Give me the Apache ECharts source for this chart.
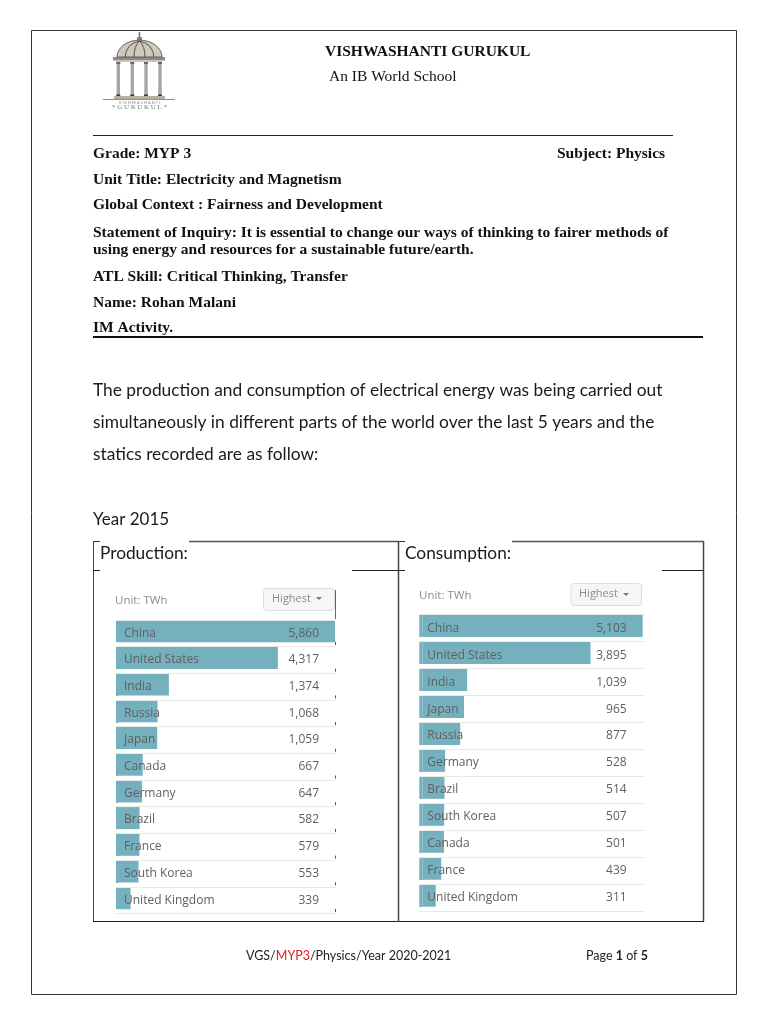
<!DOCTYPE html>
<html><head><meta charset="utf-8">
<style>html,body{margin:0;padding:0;background:#fff}#c{width:768px;height:1024px}</style>
<script src="https://cdn.jsdelivr.net/npm/echarts@6/dist/echarts.min.js"></script></head>
<body><div id="c"></div>
<script>
const prodCategories=["China","United States","India","Russia","Japan","Canada","Germany","Brazil","France","South Korea","United Kingdom"];
const prodValues=[5860,4317,1374,1068,1059,667,647,582,579,553,339];
const consCategories=["China","United States","India","Japan","Russia","Germany","Brazil","South Korea","Canada","France","United Kingdom"];
const consValues=[5103,3895,1039,965,877,528,514,507,501,439,311];

const chart=echarts.init(document.getElementById('c'),null,{renderer:'canvas'});
const SERIF='"Liberation Serif",serif', SANS='Lato,sans-serif', UI='"Open Sans",sans-serif';
const BAR='#74b0be', TXT='#5f5f5f';
const fmt=v=>v.toLocaleString('en-US');

function txt(x,y,text,size,font,weight,color,extra){
  return {type:'text',x,y,silent:true,z:10,style:Object.assign({text,fontSize:size,fontFamily:font,fontWeight:weight||'normal',fill:color||'#111',verticalAlign:'middle',align:'left'},extra||{})};
}
function ln(x1,y1,x2,y2,color,w,dash){
  return {type:'line',silent:true,z:1,shape:{x1,y1,x2,y2},style:{stroke:color||'#222',lineWidth:w||1,lineDash:dash||null}};
}
function rect(x,y,w,h,fill,stroke,r){
  return {type:'rect',silent:true,z:2,shape:{x,y,width:w,height:h,r:r||0},style:{fill:fill,stroke:stroke||null,lineWidth:1}};
}
function rib(x1,cx,cy){
  return {type:'bezierCurve',silent:true,z:3,shape:{x1,y1:57,x2:139.5,y2:41,cpx1:cx,cpy1:cy},style:{fill:'none',stroke:'#55504a',lineWidth:1}};
}
const g=[];
// page frame
g.push({type:'rect',silent:true,shape:{x:31.5,y:30.5,width:705,height:964},style:{fill:'none',stroke:'#333',lineWidth:1}});
// logo
g.push({type:'sector',silent:true,z:3,originX:139.5,originY:57,scaleY:0.75,shape:{cx:139.5,cy:57,r:22.5,r0:0,startAngle:Math.PI,endAngle:2*Math.PI,clockwise:true},style:{fill:'#cfc8bd',stroke:'#5a544c',lineWidth:1}});
g.push(rib(125,126,44),rib(154,153,44),rib(134,134,46),rib(145,145,46));
g.push(rect(137,37,5,4,'#8a847c'));
g.push(ln(139.5,32,139.5,37,'#77716a',1.5));
g.push(rect(113,57,52,3.5,'#8f8a84'));
g.push(rect(116,60.5,46,1.5,'#c9c5bf'));
[118.3,132.3,146,160].forEach(x=>{
  g.push(rect(x-1.7,62,3.4,34,'#aaa59e'));
  g.push(rect(x-2,62,4,2,'#6d6862'));
  g.push(rect(x-2,94.5,4,1.5,'#3a3632'));
});
g.push(rect(114,96,51,3,'#b8afa3'));
g.push(ln(103,99.5,175,99.5,'#b08474',1));
g.push(txt(139.5,102.5,'V I S H W A S H A N T I',4,SANS,'normal','#888',{align:'center'}));
g.push(txt(139.5,107.5,'* G U R U K U L *',7,SERIF,'normal','#777',{align:'center'}));
// header text
g.push(txt(325,52,'VISHWASHANTI GURUKUL',15.5,SERIF,'bold'));
g.push(txt(329,77,'An IB World School',15.5,SERIF));
g.push(ln(93,135.5,673,135.5,'#222',1));
g.push(txt(93,154,'Grade: MYP 3',15.5,SERIF,'bold'));
g.push(txt(557,154,'Subject: Physics',15.5,SERIF,'bold'));
g.push(txt(93,180,'Unit Title: Electricity and Magnetism',15.5,SERIF,'bold'));
g.push(txt(93,205,'Global Context : Fairness and Development',15.5,SERIF,'bold'));
g.push(txt(93,232.5,'Statement of Inquiry: It is essential to change our ways of thinking to fairer methods of',15.5,SERIF,'bold'));
g.push(txt(93,250,'using energy and resources for a sustainable future/earth.',15.5,SERIF,'bold'));
g.push(txt(93,277,'ATL Skill: Critical Thinking, Transfer',15.5,SERIF,'bold'));
g.push(txt(93,302.5,'Name: Rohan Malani',15.5,SERIF,'bold'));
g.push(txt(93,328,'IM Activity.',15.5,SERIF,'bold'));
g.push(ln(93,337,703,337,'#111',2));
// body text
g.push(txt(93,390,'The production and consumption of electrical energy was being carried out',17.35,SANS,'normal','#1a1a1a'));
g.push(txt(93,422,'simultaneously in different parts of the world over the last 5 years and the',17.35,SANS,'normal','#1a1a1a'));
g.push(txt(93,454,'statics recorded are as follow:',17.35,SANS,'normal','#1a1a1a'));
g.push(txt(93,519.5,'Year 2015',17,SANS,'normal','#1a1a1a'));
// table rules
g.push(ln(93.5,541,93.5,921,'#444',1));
g.push(ln(398.5,541,398.5,921,'#444',1.5));
g.push(ln(703.5,541,703.5,921,'#444',1.5));
g.push(ln(93,921.5,704,921.5,'#222',1));
g.push(ln(93,541.5,100,541.5,'#333',1));
g.push(ln(189,541.5,398,541.5,'#555',1.5));
g.push(ln(398,541.5,405,541.5,'#333',1));
g.push(ln(512,541.5,704,541.5,'#555',1.5));
g.push(ln(93,570.5,100,570.5,'#222',1));
g.push(ln(352,570.5,405,570.5,'#222',1));
g.push(ln(662,570.5,704,570.5,'#222',1));
g.push(txt(100,553,'Production:',17.3,SANS,'normal','#1a1a1a'));
g.push(txt(405,553,'Consumption:',17.3,SANS,'normal','#1a1a1a'));
// widget chrome
g.push(txt(115,600.5,'Unit: TWh',11.5,UI,'normal','#8c8c8c'));
g.push(rect(263.5,588.5,71,22,'#f6f6f6','#dddddd',3));
g.push(txt(272,599,'Highest',11,UI,'normal','#8c8c8c'));
g.push({type:'polygon',silent:true,z:3,shape:{points:[[316,597],[322,597],[319,600]]},style:{fill:'#777'}});
g.push(ln(335.5,590,335.5,619,'#666',1));
g.push(ln(335.5,642,335.5,915,'#555',1,[3,23.7]));
g.push(txt(419,595.5,'Unit: TWh',11.5,UI,'normal','#8c8c8c'));
g.push(rect(571,583.5,70.5,22,'#f6f6f6','#dddddd',3));
g.push(txt(579,594,'Highest',11,UI,'normal','#8c8c8c'));
g.push({type:'polygon',silent:true,z:3,shape:{points:[[623,593],[629,593],[626,596]]},style:{fill:'#777'}});
// footer
g.push({type:'text',silent:true,z:10,x:246,y:955.5,style:{
  text:'{a|VGS/}{r|MYP3}{a|/Physics/Year 2020-2021}',verticalAlign:'middle',
  rich:{a:{fontSize:12.5,fontFamily:SANS,fill:'#222'},r:{fontSize:12.5,fontFamily:SANS,fill:'#e01b1b'}}}});
g.push({type:'text',silent:true,z:10,x:586,y:955.5,style:{
  text:'{a|Page }{b|1}{a| of }{b|5}',verticalAlign:'middle',
  rich:{a:{fontSize:12.5,fontFamily:SANS,fill:'#222'},b:{fontSize:12.5,fontFamily:SANS,fontWeight:'bold',fill:'#222'}}}});

// chart panels: bars grid (with a short same-colour tick forming each bar's root),
// and a slightly lower row grid carrying the row rules and both text columns
const panels=[
 {cats:prodCategories,vals:prodValues,left:116,width:219,top:617.85,height:293.7,root:2,rowShift:1.9},
 {cats:consCategories,vals:consValues,left:419.3,width:223.4,top:612.5,height:296.7,root:3,rowShift:2.2}
];
const grid=[],xAxis=[],yAxis=[],series=[];
const hiddenAxis={axisLine:{show:false},axisTick:{show:false},splitLine:{show:false}};
panels.forEach((p)=>{
  const gi=grid.length;
  grid.push({left:p.left+p.root,top:p.top,width:p.width-p.root,height:p.height,containLabel:false});
  xAxis.push({gridIndex:gi,type:'value',min:0,max:p.vals[0],show:false});
  const yBar=yAxis.length;
  yAxis.push({gridIndex:gi,type:'category',inverse:true,data:p.cats,z:2,position:'left',
    axisLine:{show:false},splitLine:{show:false},axisLabel:{show:false},
    axisTick:{show:true,alignWithLabel:true,length:p.root,lineStyle:{width:22,color:BAR}}});
  series.push({type:'bar',xAxisIndex:gi,yAxisIndex:yBar,data:p.vals,barWidth:22,silent:true,z:2,
    itemStyle:{color:BAR}});
  const rows=grid.length;
  grid.push({left:p.left,top:p.top+p.rowShift,width:p.width+1.5,height:p.height,containLabel:false});
  xAxis.push({gridIndex:rows,type:'value',min:0,max:1,show:false});
  yAxis.push({gridIndex:rows,type:'category',inverse:true,data:p.cats,z:5,position:'left',
    axisLine:{show:false},axisTick:{show:false},
    splitLine:{show:true,interval:0,lineStyle:{color:'#e8eaea',width:1}},
    axisLabel:{inside:true,margin:8,color:TXT,fontSize:12,fontFamily:UI,align:'left',interval:0}});
  yAxis.push(Object.assign({gridIndex:rows,type:'category',inverse:true,data:p.vals.map(fmt),z:5,position:'right',
    axisLabel:{inside:true,margin:17.5,color:TXT,fontSize:12,fontFamily:UI,align:'right',interval:0}},hiddenAxis));
});
chart.setOption({
  animation:false,backgroundColor:'#fff',
  grid,xAxis,yAxis,series,
  graphic:{elements:g}
});
</script></body></html>
